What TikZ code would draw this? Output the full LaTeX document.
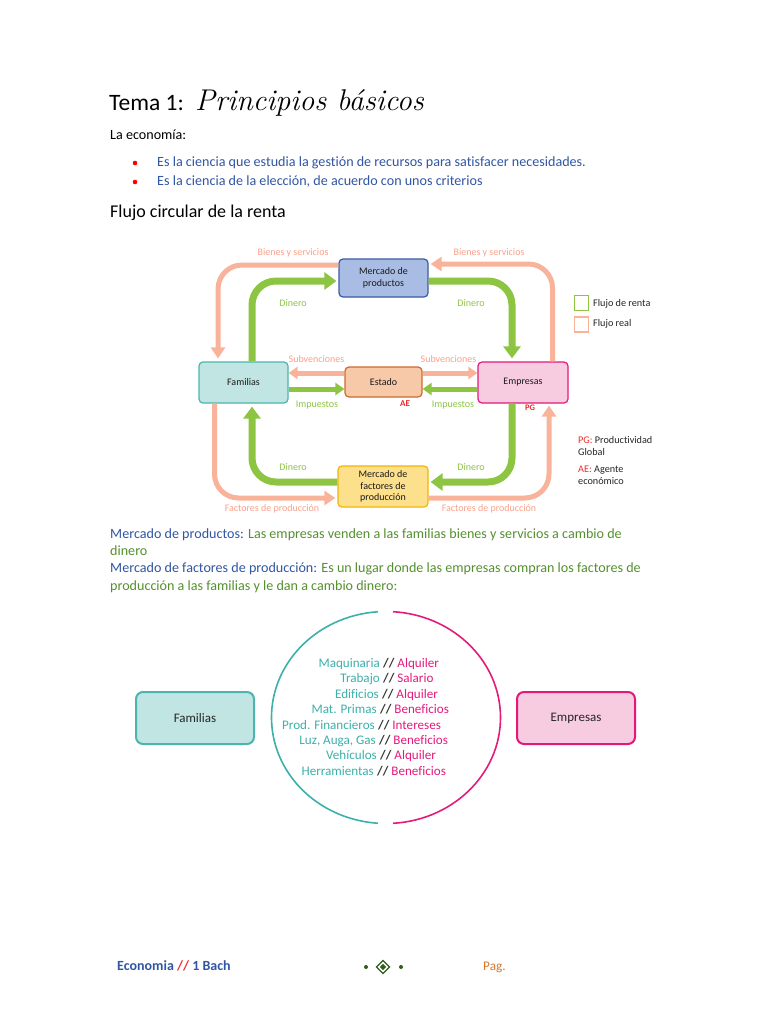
\documentclass[tikz,border=0pt]{standalone}
\usepackage{fontspec}
\setmainfont{Carlito}[Ligatures=NoCommon]
\usetikzlibrary{arrows.meta}
\definecolor{salm}{HTML}{F9B39A}
\definecolor{lgreen}{HTML}{8DC543}
\definecolor{txtblue}{HTML}{3156A3}
\definecolor{pgreen}{HTML}{55902F}
\definecolor{tealc}{HTML}{3DB0AA}
\definecolor{pinkm}{HTML}{E51B7B}
\definecolor{mpfill}{HTML}{A9BDE4}
\definecolor{mpdraw}{HTML}{3A5BA5}
\definecolor{famfill}{HTML}{C0E5E2}
\definecolor{famdraw}{HTML}{4DB4AE}
\definecolor{estfill}{HTML}{F8C9A9}
\definecolor{estdraw}{HTML}{CB6A2C}
\definecolor{empfill}{HTML}{F7CCE1}
\definecolor{empdraw}{HTML}{E2197B}
\definecolor{mffill}{HTML}{FDE08C}
\definecolor{mfdraw}{HTML}{F0B50C}
\definecolor{footgreen}{HTML}{2F5D1F}
\definecolor{pagor}{HTML}{D9782D}
\definecolor{redlab}{HTML}{EE2A2A}
\tikzset{
  body/.style={font=\fontsize{14.1}{16}\selectfont, inner sep=0pt},
  dbox/.style={rectangle, rounded corners=4pt, line width=1.2pt, align=center,
    font=\fontsize{10}{11.5}\selectfont, text=black!90},
  salmarrow/.style={salm, line width=5pt, rounded corners=24pt,
    -{Triangle[width=14pt,length=11pt]}},
  greenarrow/.style={lgreen, line width=7pt, rounded corners=24pt,
    -{Triangle[width=17pt,length=12pt]}},
  salmmid/.style={salm, line width=5pt, -{Triangle[width=12pt,length=9pt]}},
  greenmid/.style={lgreen, line width=5pt, -{Triangle[width=12pt,length=9pt]}},
  slab/.style={text=salm!90!red, font=\fontsize{10}{12}\selectfont, inner sep=0pt},
  glab/.style={text=lgreen, font=\fontsize{10}{12}\selectfont, inner sep=0pt},
  leg/.style={font=\fontsize{10.2}{12}\selectfont, inner sep=0pt, anchor=base west, text=black!85},
  bigbox/.style={rectangle, rounded corners=7pt, line width=2pt,
    minimum width=118pt, minimum height=52pt, font=\fontsize{13}{15}\selectfont, text=black!85},
  clines/.style={font=\fontsize{13.1}{15}\selectfont, inner sep=0pt}
}
\begin{document}
\begin{tikzpicture}[x=1pt,y=-1pt]
\useasboundingbox[fill=white] (0,0) rectangle (768,1024);

% title
\node[anchor=base west, inner sep=0pt, font=\fontsize{23.5}{26}\selectfont] (tema) at (109,111) {Tema 1:};
\node[anchor=base west, inner sep=0pt] (princ) at (195,111)
  {\fontfamily{lmr}\fontshape{it}\fontsize{30}{33}\selectfont Principios básicos};
\node[body, anchor=base west] (laeco) at (110,140) {La economía:};
\fill[red] (135,163) circle (2.3pt);
\fill[red] (135,182) circle (2.3pt);
\node[body, anchor=base west, text=txtblue] (b1) at (157,167) {Es la ciencia que estudia la gestión de recursos para satisfacer necesidades.};
\node[body, anchor=base west, text=txtblue] (b2) at (157,186) {Es la ciencia de la elección, de acuerdo con unos criterios};
\node[anchor=base west, inner sep=0pt, font=\fontsize{18}{20}\selectfont] (flujo) at (110,218) {Flujo circular de la renta};

% diagram 1 nodes
\node[dbox, fill=mpfill, draw=mpdraw, minimum width=89pt, minimum height=38pt] (mp) at (383.5,278) {Mercado de\\productos};
\node[dbox, fill=famfill, draw=famdraw, minimum width=89pt, minimum height=41pt] (fam) at (243.5,382.5) {Familias};
\node[dbox, fill=estfill, draw=estdraw, minimum width=77pt, minimum height=30pt] (est) at (383.5,382) {Estado};
\node[dbox, fill=empfill, draw=empdraw, minimum width=90pt, minimum height=41pt] (emp) at (523,382.5) {Empresas};
\node[dbox, fill=mffill, draw=mfdraw, minimum width=90pt, minimum height=41pt, inner sep=1pt] (mf) at (383,486.5) {Mercado de\\factores de\\producción};

% outer salmon loops
\draw[salmarrow, shorten >=3pt] ([yshift=13pt]mp.west) -| ([xshift=-25.5pt]fam.north);
\draw[salmarrow, shorten >=2pt] ([xshift=29.5pt]emp.north) |- ([yshift=14pt]mp.east);
\draw[salmarrow, shorten >=2pt] ([xshift=-29pt]fam.south) |- ([yshift=-11.5pt]mf.west);
\draw[salmarrow, shorten >=2pt] ([yshift=-11.5pt]mf.east) -| ([xshift=26pt]emp.south);
% inner green loops
\draw[greenarrow, shorten >=2pt] ([xshift=8.5pt]fam.north) |- ([yshift=-3pt]mp.west);
\draw[greenarrow, shorten >=3pt] ([yshift=-3pt]mp.east) -| ([xshift=-11pt]emp.north);
\draw[greenarrow, shorten >=2pt] ([xshift=-11pt]emp.south) |- ([yshift=4.5pt]mf.east);
\draw[greenarrow, shorten >=3pt] ([yshift=4.5pt]mf.west) -| ([xshift=8.5pt]fam.south);
% middle
\draw[salmmid] ([yshift=9pt]est.west) -- ([yshift=9pt]est.west -| fam.east);
\draw[salmmid] ([yshift=9pt]est.east) -- ([yshift=9pt]est.east -| emp.west);
\draw[greenmid] ([yshift=-6.5pt]fam.east) -- ([yshift=-6.5pt]fam.east -| est.west);
\draw[greenmid] ([yshift=-6.5pt]emp.west) -- ([yshift=-6.5pt]emp.west -| est.east);

% labels
\node[slab] (lb1) at (293,253) {Bienes y servicios};
\node[slab] (lb2) at (489,253) {Bienes y servicios};
\node[glab] (ld1) at (293,303) {Dinero};
\node[glab] (ld2) at (471,303) {Dinero};
\node[glab] (ld3) at (293,467) {Dinero};
\node[glab] (ld4) at (471,467) {Dinero};
\node[slab] (lf1) at (272,509) {Factores de producción};
\node[slab] (lf2) at (489,509) {Factores de producción};
\node[slab] (ls1) at (316.5,359) {Subvenciones};
\node[slab] (ls2) at (448.5,359) {Subvenciones};
\node[glab] (li1) at (317,405.5) {Impuestos};
\node[glab] (li2) at (453,405.5) {Impuestos};
\node[text=redlab, font=\fontsize{9}{10}\bfseries, inner sep=0pt] (ae) at (405,404) {AE};
\node[text=redlab, font=\fontsize{8.5}{10}\bfseries, inner sep=0pt] (pg) at (530,408) {PG};

% legend
\node[draw=lgreen, line width=1.6pt, minimum width=14pt, minimum height=15pt, inner sep=0pt] (lg1) at (581.5,303) {};
\node[draw=salm, line width=1.6pt, minimum width=14pt, minimum height=15pt, inner sep=0pt] (lg2) at (581.5,324.5) {};
\node[leg] (lgt1) at (593,306.5) {Flujo de renta};
\node[leg] (lgt2) at (593,326.5) {Flujo real};
\node[leg] (pgt) at (578,443.5) {\textcolor{redlab}{PG:} Productividad};
\node[leg] (pgt2) at (578,455.5) {Global};
\node[leg] (aet) at (578,472.5) {\textcolor{redlab}{AE:} Agente};
\node[leg] (aet2) at (578,484.5) {económico};

% paragraphs
\node[body, anchor=base west, text=pgreen] (p1) at (110,538) {\textcolor{txtblue}{Mercado de productos:} Las empresas venden a las familias bienes y servicios a cambio de};
\node[body, anchor=base west, text=pgreen] (p2) at (110,555) {dinero};
\node[body, anchor=base west, text=pgreen] (p3) at (110,572) {\textcolor{txtblue}{Mercado de factores de producción:} Es un lugar donde las empresas compran los factores de};
\node[body, anchor=base west, text=pgreen] (p4) at (110,590) {producción a las familias y le dan a cambio dinero:};

% diagram 2
\node[bigbox, fill=famfill, draw=famdraw] (fam2) at (195,718) {Familias};
\node[bigbox, fill=empfill, draw=empdraw] (emp2) at (576,718) {Empresas};
\coordinate (cc) at (386,717.5);
\draw[tealc, line width=1.6pt] (cc) ++(94:114.5pt and 106pt) arc[start angle=94, end angle=266, x radius=114.5pt, y radius=106pt];
\draw[pinkm, line width=1.6pt] (cc) ++(-86.5:114.5pt and 106pt) arc[start angle=-86.5, end angle=86.5, x radius=114.5pt, y radius=106pt];
\foreach \l/\r/\s [count=\i from 0] in {Maquinaria/Alquiler/383, Trabajo/Salario/383, Edificios/Alquiler/382, Mat. Primas/Beneficios/380, Prod. Financieros/Intereses/378, {Luz, Auga, Gas}/Beneficios/379, Vehículos/Alquiler/380, Herramientas/Beneficios/377}{
  \node[clines, anchor=base east, text=tealc] (cl\i) at (\s-3, 667.5+15.4*\i) {\l};
  \node[clines, anchor=base west, text=pinkm] (cr\i) at (\s, 667.5+15.4*\i) {\textcolor{black!80}{\bfseries//} \r};
}

% footer
\node[anchor=base west, inner sep=0pt, font=\fontsize{14}{16}\bfseries, text=txtblue] (foot) at (117,970) {Economia \textcolor{redlab}{//} 1 Bach};
\fill[footgreen] (366,967) circle (2pt);
\fill[footgreen] (401,967) circle (2pt);
\draw[footgreen, line width=1.3pt] (383,960.5) -- (389.5,967) -- (383,973.5) -- (376.5,967) -- cycle;
\fill[footgreen] (383,963.8) -- (386.2,967) -- (383,970.2) -- (379.8,967) -- cycle;
\node[anchor=base west, inner sep=0pt, font=\fontsize{13.2}{15}\selectfont, text=pagor] (pag) at (483,970) {Pag.};
\end{tikzpicture}
\end{document}
